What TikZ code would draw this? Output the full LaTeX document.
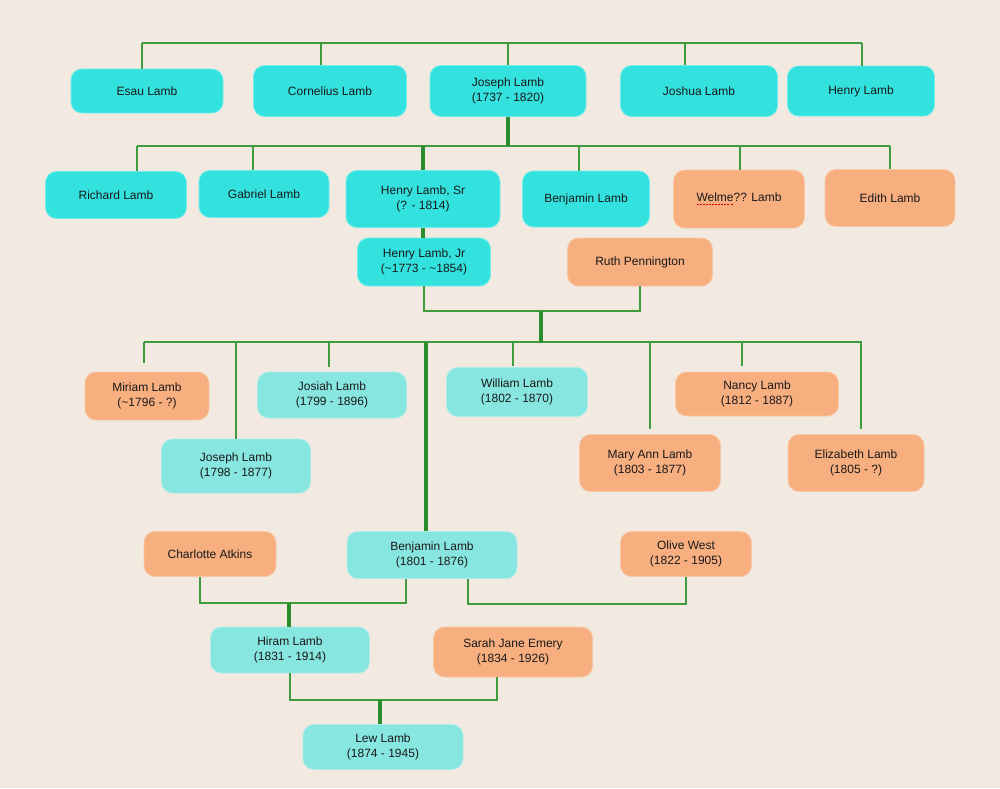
\documentclass[tikz,border=0pt]{standalone}
\usepackage{fontspec}
\setmainfont{Liberation Sans}
\usepackage{tikz}
\definecolor{paper}{HTML}{F2EAE0}
\definecolor{aqua}{HTML}{33E2DF}
\definecolor{paleaqua}{HTML}{88E6E1}
\definecolor{peach}{HTML}{F7AF7F}
\definecolor{twig}{HTML}{3E9C3E}
\definecolor{stem}{HTML}{2A8C2A}
\tikzstyle{block} = [rectangle, rounded corners=11pt, align=center,
                 text=black!90, line width=0.8pt,
                 font=\fontsize{12}{15}\selectfont]
\tikzstyle{elder} = [block, fill=aqua, draw=aqua!70!white]
\tikzstyle{young} = [block, fill=paleaqua, draw=paleaqua!70!white]
\tikzstyle{wed} = [block, fill=peach, draw=peach!70!white]
\tikzstyle{branch} = [draw=twig, line width=1.5pt]
\tikzstyle{trunk} = [draw=stem, line width=4pt]
\newcommand\spellmark[1]{\setbox0\hbox{#1}\rlap{\raisebox{-3pt}{\color{red!85!black}%
  \hbox to \wd0{\xleaders\hbox to 3pt{\rule{2pt}{1pt}\hfil}\hfil}}}#1}

\begin{document}
\begin{tikzpicture}[x=1pt,y=-1pt]

\useasboundingbox [fill=paper] (0,0) rectangle (1000,788);

%first row
\node [elder, minimum width=152, minimum height=44] at (147,91) (esau) {Esau Lamb};
\node [elder, minimum width=153, minimum height=51] at (330,91) (cornelius) {Cornelius Lamb};
\node [elder, minimum width=156, minimum height=51] at (508,91) (joseph) {Joseph Lamb\\(1737 - 1820)};
\node [elder, minimum width=157, minimum height=51] at (699,91) (joshua) {Joshua Lamb};
\node [elder, minimum width=147, minimum height=50] at (861,91) (henry) {Henry Lamb};

%second row
\node [elder, minimum width=141, minimum height=47] at (116,195) (richard) {Richard Lamb};
\node [elder, minimum width=130, minimum height=47] at (264,194) (gabriel) {Gabriel Lamb};
\node [elder, minimum width=154, minimum height=57] at (423,199) (henrysr) {Henry Lamb, Sr\\(? - 1814)};
\node [elder, minimum width=127, minimum height=56] at (586,199) (benjaminsr) {Benjamin Lamb};
\node [wed, minimum width=131, minimum height=58] at (739,199) (welme) {\spellmark{Welme}?? Lamb};
\node [wed, minimum width=130, minimum height=57] at (890,198) (edith) {Edith Lamb};

\node [elder, minimum width=133, minimum height=48] at (424,262) (henryjr) {Henry Lamb, Jr\\(\textasciitilde1773 - \textasciitilde1854)};
\node [wed, minimum width=145, minimum height=48] at (640,262) (ruth) {Ruth Pennington};

%third row
\node [wed, minimum width=124, minimum height=48] at (147,396) (miriam) {Miriam Lamb\\(\textasciitilde1796 - ?)};
\node [young, minimum width=149, minimum height=46] at (332,395) (josiah) {Josiah Lamb\\(1799 - 1896)};
\node [young, minimum width=141, minimum height=49] at (517,392) (william) {William Lamb\\(1802 - 1870)};
\node [wed, minimum width=163, minimum height=44] at (757,394) (nancy) {Nancy Lamb\\(1812 - 1887)};
\node [young, minimum width=149, minimum height=54] at (236,466) (josephjr) {Joseph Lamb\\(1798 - 1877)};
\node [wed, minimum width=141, minimum height=57] at (650,463) (maryann) {Mary Ann Lamb\\(1803 - 1877)};
\node [wed, minimum width=136, minimum height=57] at (856,463) (elizabeth) {Elizabeth Lamb\\(1805 - ?)};

%fourth row
\node [wed, minimum width=132, minimum height=45] at (210,554) (charlotte) {Charlotte Atkins};
\node [young, minimum width=170, minimum height=47] at (432,555) (benjamin) {Benjamin Lamb\\(1801 - 1876)};
\node [wed, minimum width=131, minimum height=45] at (686,554) (olive) {Olive West\\(1822 - 1905)};

\node [young, minimum width=159, minimum height=46] at (290,650) (hiram) {Hiram Lamb\\(1831 - 1914)};
\node [wed, minimum width=159, minimum height=50] at (513,652) (sarah) {Sarah Jane Emery\\(1834 - 1926)};

\node [young, minimum width=160, minimum height=45] at (383,747) (lew) {Lew Lamb\\(1874 - 1945)};

%bars
\coordinate (top l) at (142,43);
\coordinate (top r) at (862,43);
\coordinate (mid l) at (137,146);
\coordinate (mid r) at (890,146);
\coordinate (kids l) at (144,342);
\coordinate (kids r) at (862,342);
\coordinate (hr) at (541,311);
\coordinate (cb) at (289,603);
\coordinate (bo) at (577,604);
\coordinate (hs) at (380,700);

\path [branch] (top l) -- (top r);
\path [branch] (mid l) -- (mid r);
\path [branch] (kids l) -- (kids r);

\foreach \n/\dx in {esau/-5, cornelius/-9, joseph/0, joshua/-14, henry/1}
	\path [branch] ([xshift=\dx pt]\n.north) -- ([xshift=\dx pt]\n.north |- top l);

\foreach \n/\dx in {richard/21, gabriel/-11, benjaminsr/-7, welme/1, edith/0}
	\path [branch] ([xshift=\dx pt]\n.north) -- ([xshift=\dx pt]\n.north |- mid l);

\foreach \n/\dx/\gap in {miriam/-3/9, josephjr/0/0, josiah/-3/5, william/-4/1,
		maryann/0/5, nancy/-15/6, elizabeth/5/5}
	\path [branch, shorten <=\gap pt] ([xshift=\dx pt]\n.north) -- ([xshift=\dx pt]\n.north |- kids l);

\path [trunk] (joseph.south) -- (joseph.south |- mid l);
\path [trunk] (henrysr.north) -- (henrysr.north |- mid l);
\path [trunk] (henrysr.south) -- (henrysr.south |- henryjr.north);

%couples
\path [branch] (henryjr.south) |- (hr) -| (ruth.south);
\path [trunk] (hr) -- (hr |- kids l);
\path [trunk] ([xshift=-6pt]benjamin.north) -- ([xshift=-6pt]benjamin.north |- kids l);

\path [branch] ([xshift=-10pt]charlotte.south) |- (cb) -| ([xshift=-26pt]benjamin.south);
\path [trunk] (cb) -- (cb |- hiram.north);
\path [branch] ([xshift=36pt]benjamin.south) |- (bo) -| (olive.south);

\path [branch] (hiram.south) |- (hs) -| ([xshift=-16pt]sarah.south);
\path [trunk] (hs) -- (hs |- lew.north);

\end{tikzpicture}
\end{document}
